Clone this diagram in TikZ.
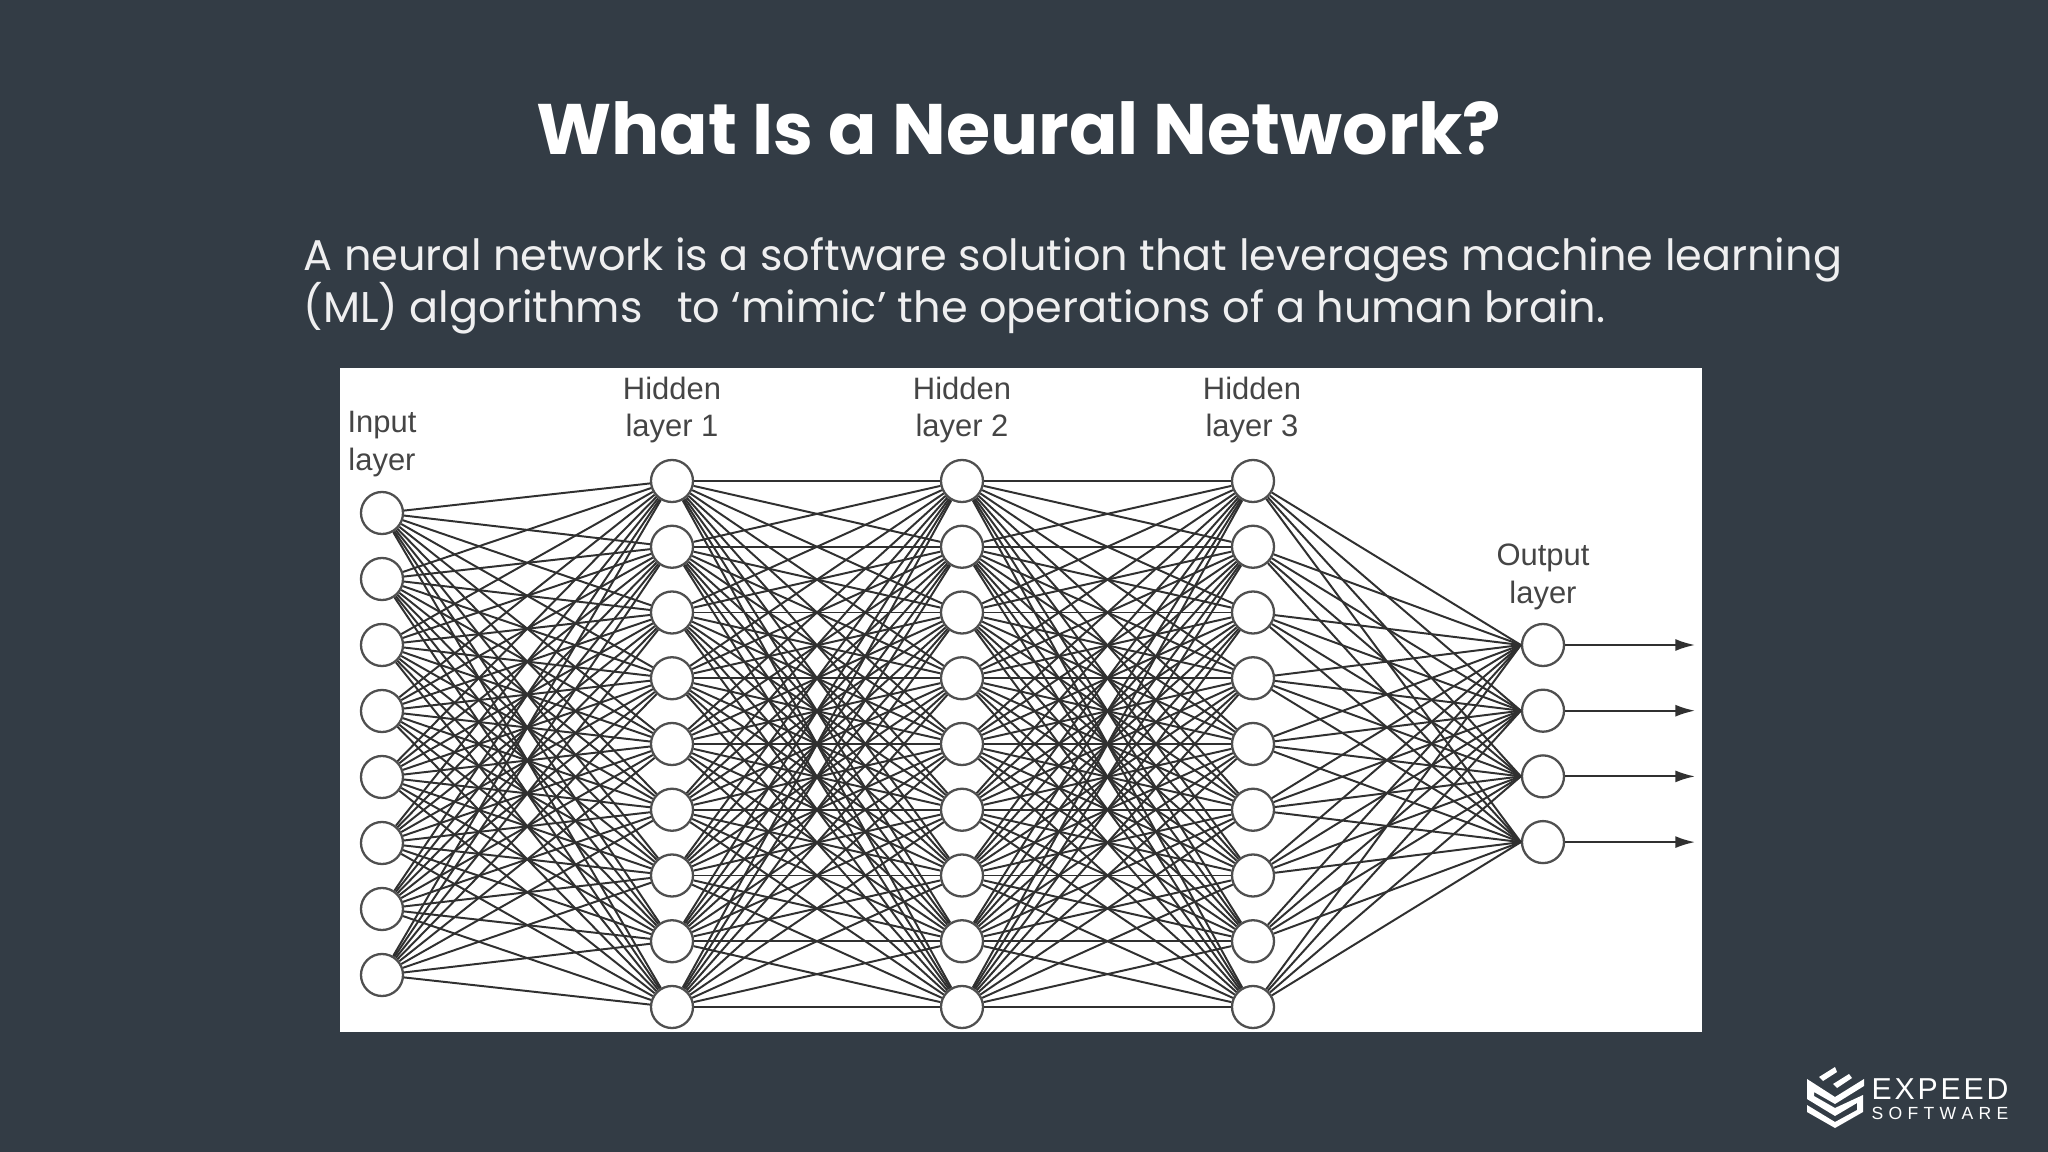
\documentclass[tikz,border=0pt]{standalone}
\usepackage{fontspec}
\setmainfont{Poppins}
\newfontfamily\labelfont{Liberation Sans}
\usetikzlibrary{arrows.meta}
\setlength{\lineskiplimit}{-20pt}
\definecolor{slide}{HTML}{333C45}
\definecolor{ink}{HTML}{303030}
\tikzset{
  unit/.style={circle,draw=ink!85,fill=white,line width=0.65pt,minimum size=0.42cm,inner sep=0pt},
  link/.style={ink,line width=0.56pt},
  layerlabel/.style={font=\labelfont\fontsize{8.8}{10.6}\selectfont,text=ink!90,align=center,inner sep=0pt},
}
\begin{document}
\begin{tikzpicture}[x=0.01cm,y=-0.01cm]
    \fill[slide] (0,0) rectangle (2048,1152);
    \useasboundingbox (0,0) rectangle (2048,1152);
    \node[text=white,font=\fontsize{20.33}{24}\selectfont\bfseries] (title) at (1019,128) {What Is a Neural Network?};
    \node[text=white!92!slide,font=\fontsize{12.23}{14.8}\selectfont,anchor=north west,align=left,inner sep=0pt] (intro) at (303,237)
        {A neural network is a software solution that leverages machine learning\\(ML) algorithms \ \ to ‘mimic’ the operations of a human brain.};
    \fill[white] (340,368) rectangle (1702,1032);
    % layers
    \foreach \n in {1,...,8} \node[unit] (in\n) at (382,{513+(\n-1)*66}) {};
    \foreach \n in {1,...,9} {
        \node[unit] (ha\n) at (672,{481+(\n-1)*65.75}) {};
        \node[unit] (hb\n) at (962,{481+(\n-1)*65.75}) {};
        \node[unit] (hc\n) at (1253,{481+(\n-1)*65.75}) {};
    }
    \foreach \n in {1,...,4} {
        \node[unit] (out\n) at (1543,{645+(\n-1)*65.7}) {};
        \coordinate (end\n) at (1695,{645+(\n-1)*65.7});
    }
    % connections
    \foreach \i in {1,...,8} \foreach \j in {1,...,9} \draw[link] (in\i) -- (ha\j);
    \foreach \i in {1,...,9} \foreach \j in {1,...,9} {
        \draw[link] (ha\i) -- (hb\j);
        \draw[link] (hb\i) -- (hc\j);
    }
    \foreach \i in {1,...,9} \foreach \j in {1,...,4} \draw[link] (hc\i) -- (out\j.west);
    \foreach \n in {1,...,4} \draw[link,-{Latex[length=5.6pt,width=3.4pt]}] (out\n) -- (end\n);
    % labels
    \node[layerlabel] (lin) at (382,444) {Input\\layer};
    \node[layerlabel] (lha) at (672,410) {Hidden\\layer 1};
    \node[layerlabel] (lhb) at (962,410) {Hidden\\layer 2};
    \node[layerlabel] (lhc) at (1252,410) {Hidden\\layer 3};
    \node[layerlabel] (lout) at (1543,577) {Output\\layer};
    % logo
    \fill[white] (1807,1079) -- (1835,1097) -- (1864,1079) -- (1864,1086) -- (1835,1104) -- (1814,1092) -- (1814,1096) -- (1835,1108) -- (1863,1095) -- (1863,1112) -- (1835,1128) -- (1807,1112) -- (1807,1105) -- (1835,1122) -- (1857,1110) -- (1857,1103) -- (1835,1116) -- (1807,1099) -- cycle;
    \fill[white] (1819,1077) -- (1835,1067) -- (1837,1072) -- (1823,1081) -- cycle;
    \fill[white] (1833,1084) -- (1849,1074) -- (1852,1078) -- (1837,1088) -- cycle;
    \node[text=white,font=\labelfont\fontsize{8.6}{10}\selectfont,anchor=west,inner sep=0pt] (logoa) at (1871,1089) {E\hspace{0.8pt}X\hspace{0.8pt}P\hspace{0.8pt}E\hspace{0.8pt}E\hspace{0.8pt}D};
    \node[text=white,font=\labelfont\fontsize{5}{5}\selectfont,anchor=west,inner sep=0pt] (logob) at (1871,1113) {S\hspace{1.5pt}O\hspace{1.5pt}F\hspace{1.5pt}T\hspace{1.5pt}W\hspace{1.5pt}A\hspace{1.5pt}R\hspace{1.5pt}E};
\end{tikzpicture}
\end{document}
